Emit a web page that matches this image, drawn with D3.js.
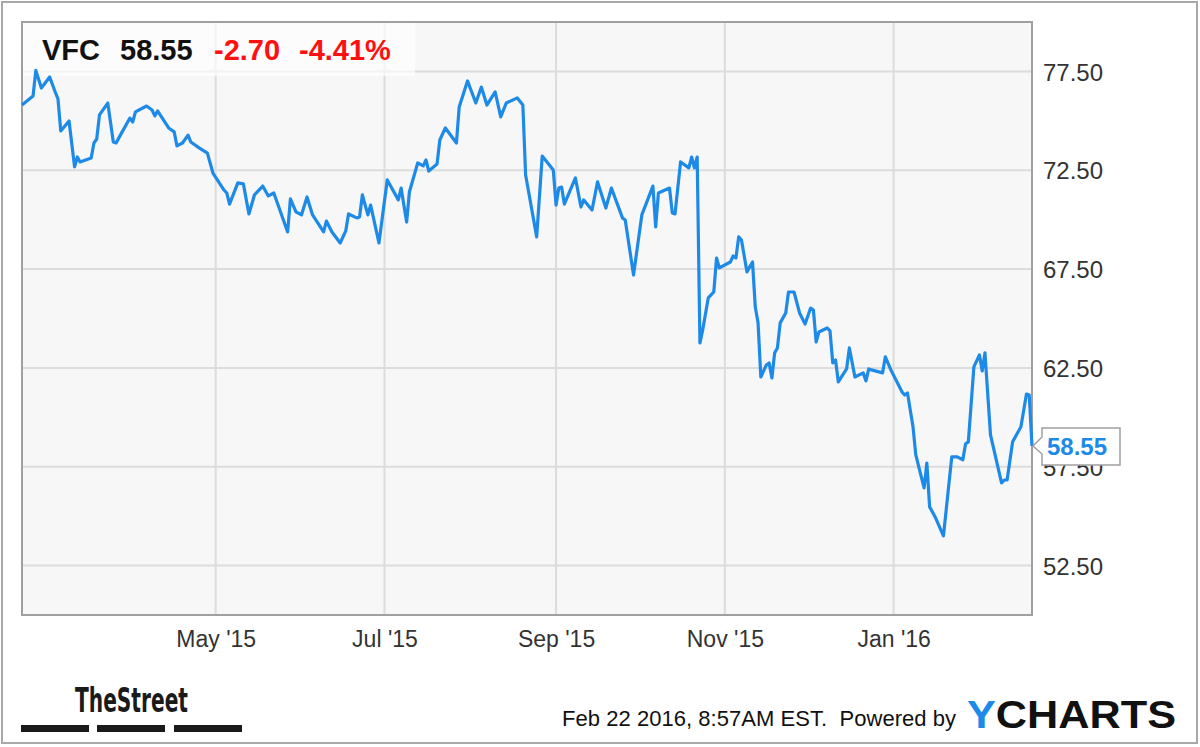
<!DOCTYPE html>
<html>
<head>
<meta charset="utf-8">
<script src="https://cdn.jsdelivr.net/npm/d3@7"></script>
<style>
  html, body { margin: 0; padding: 0; background: #fff; }
  svg { display: block; }
  text { font-family: "Liberation Sans", Arial, sans-serif; }
</style>
</head>
<body>
<svg id="chart" width="1200" height="747"></svg>
<script>
// ---------- DATA ----------
const ticker = "VFC";
const lastPrice = 58.55;
const changeAbs = "-2.70";
const changePct = "-4.41%";

const dates = [
"2015-02-20","2015-02-24","2015-02-25","2015-02-27","2015-03-02","2015-03-04","2015-03-05","2015-03-06","2015-03-09","2015-03-11","2015-03-12","2015-03-13","2015-03-17","2015-03-18","2015-03-19","2015-03-20","2015-03-23","2015-03-25","2015-03-26","2015-03-28","2015-03-31","2015-04-01","2015-04-02","2015-04-06","2015-04-08","2015-04-09","2015-04-10","2015-04-14","2015-04-16","2015-04-17","2015-04-19","2015-04-21","2015-04-22","2015-04-25","2015-04-28","2015-04-30",
"2015-05-04","2015-05-05","2015-05-06","2015-05-09","2015-05-11","2015-05-13","2015-05-15","2015-05-18","2015-05-20","2015-05-22","2015-05-27","2015-05-28","2015-05-30",
"2015-06-01","2015-06-03","2015-06-05","2015-06-09","2015-06-10","2015-06-12","2015-06-15","2015-06-17","2015-06-18","2015-06-21","2015-06-22","2015-06-23","2015-06-25","2015-06-26","2015-06-29",
"2015-07-02","2015-07-06","2015-07-07","2015-07-09","2015-07-10","2015-07-13","2015-07-15","2015-07-16","2015-07-17","2015-07-20","2015-07-21","2015-07-23","2015-07-27","2015-07-28","2015-07-31",
"2015-08-03","2015-08-05","2015-08-07","2015-08-10","2015-08-12","2015-08-14","2015-08-18","2015-08-20","2015-08-21","2015-08-25","2015-08-27","2015-08-31",
"2015-09-01","2015-09-02","2015-09-03","2015-09-04","2015-09-08","2015-09-10","2015-09-11","2015-09-14","2015-09-16","2015-09-19","2015-09-21","2015-09-25","2015-09-26","2015-09-29",
"2015-10-02","2015-10-06","2015-10-07","2015-10-08","2015-10-12","2015-10-13","2015-10-14","2015-10-16","2015-10-19","2015-10-20","2015-10-21","2015-10-22","2015-10-23","2015-10-24","2015-10-26","2015-10-28","2015-10-29","2015-10-30",
"2015-11-03","2015-11-04","2015-11-05","2015-11-06","2015-11-07","2015-11-09","2015-11-11","2015-11-12","2015-11-13","2015-11-14","2015-11-16","2015-11-17","2015-11-18","2015-11-19","2015-11-20","2015-11-21","2015-11-23","2015-11-24","2015-11-26","2015-11-28","2015-11-30",
"2015-12-02","2015-12-03","2015-12-04","2015-12-05","2015-12-08","2015-12-09","2015-12-10","2015-12-11","2015-12-12","2015-12-15","2015-12-16","2015-12-18","2015-12-21","2015-12-22","2015-12-23","2015-12-24","2015-12-28","2015-12-29","2015-12-31",
"2016-01-04","2016-01-05","2016-01-06","2016-01-08","2016-01-09","2016-01-12","2016-01-13","2016-01-14","2016-01-16","2016-01-19","2016-01-22","2016-01-24","2016-01-26","2016-01-27","2016-01-28","2016-01-30",
"2016-02-01","2016-02-02","2016-02-03","2016-02-05","2016-02-09","2016-02-10","2016-02-11","2016-02-13","2016-02-16","2016-02-18","2016-02-19","2016-02-20"
];

const prices = [
75.80,76.26,77.55,76.66,77.22,76.46,76.11,74.49,74.99,72.67,73.17,72.92,73.12,73.88,74.08,75.30,75.90,73.93,73.88,74.39,75.14,74.94,75.45,75.75,75.55,75.25,75.50,74.64,74.44,73.73,73.88,74.28,73.93,73.63,73.37,72.36,
71.50,71.35,70.79,71.86,71.81,70.29,71.25,71.70,71.20,71.35,69.38,71.05,70.39,
70.24,71.15,70.24,69.38,69.93,69.38,68.82,69.43,70.29,70.09,70.14,71.25,70.24,70.74,68.82,
72.01,71.00,71.60,69.88,71.40,72.87,72.72,73.02,72.46,72.82,74.03,74.64,73.88,75.70,77.02,
75.90,76.71,75.80,76.46,75.20,75.90,76.16,75.80,72.26,69.13,73.22,72.51,
70.74,71.60,71.65,70.79,72.11,70.64,71.00,70.49,71.91,70.59,71.60,70.09,69.98,67.20,
70.24,71.70,69.63,71.35,71.60,70.34,70.29,72.92,72.62,73.17,72.62,73.17,63.76,64.42,66.04,66.34,68.06,67.56,
67.86,68.16,68.06,69.13,68.97,67.36,67.86,65.58,64.78,62.04,62.65,62.75,61.99,63.26,63.51,64.78,65.28,66.34,66.34,65.28,64.72,
65.53,65.43,63.81,64.32,64.52,64.37,62.75,62.90,61.79,62.45,63.51,62.04,62.25,61.84,62.45,62.40,62.25,63.06,62.40,
61.29,61.13,61.23,59.52,58.10,56.43,57.69,55.47,54.96,54.00,58.00,58.00,57.85,58.66,58.76,62.55,
63.16,62.35,63.26,59.11,56.68,56.83,56.83,58.76,59.52,61.18,61.13,58.55
];

const xDomain = ["2015-02-20", "2016-02-20"];
const yDomain = [50, 80];
const xTickDates = ["2015-05-01","2015-07-01","2015-09-01","2015-11-01","2016-01-01"];
const xTickLabels = ["May '15","Jul '15","Sep '15","Nov '15","Jan '16"];
const yTickValues = [52.5, 57.5, 62.5, 67.5, 72.5, 77.5];
const yTickLabels = ["52.50","57.50","62.50","67.50","72.50","77.50"];
const footerText = "Feb 22 2016, 8:57AM EST.  Powered by";

// ---------- CHART ----------
const parse = d3.timeParse("%Y-%m-%d");
const data = dates.map((d, i) => ({ date: parse(d), value: prices[i] }));

const svg = d3.select("#chart");
const plot = { left: 22, top: 22, right: 1032, bottom: 615 };

const x = d3.scaleTime().domain(xDomain.map(parse)).range([plot.left, plot.right]);
const y = d3.scaleLinear().domain(yDomain).range([plot.bottom, plot.top]);

// outer frame
svg.append("rect").attr("x", 2).attr("y", 2).attr("width", 1195).attr("height", 741)
  .attr("fill", "#fff").attr("stroke", "#a8a8a8").attr("stroke-width", 2);

// plot background
svg.append("rect").attr("x", plot.left).attr("y", plot.top)
  .attr("width", plot.right - plot.left).attr("height", plot.bottom - plot.top)
  .attr("fill", "#f7f7f7");

// horizontal gridlines
svg.append("g").selectAll("line").data(yTickValues).join("line")
  .attr("x1", plot.left).attr("x2", plot.right)
  .attr("y1", d => y(d)).attr("y2", d => y(d))
  .attr("stroke", "#dcdcdc").attr("stroke-width", 2);

// vertical gridlines
const xTicks = xTickDates.map(parse);
svg.append("g").selectAll("line").data(xTicks).join("line")
  .attr("x1", d => x(d)).attr("x2", d => x(d))
  .attr("y1", plot.top).attr("y2", plot.bottom)
  .attr("stroke", "#dcdcdc").attr("stroke-width", 2);

// legend box (semi-transparent)
svg.append("rect").attr("x", plot.left).attr("y", plot.top).attr("width", 393).attr("height", 54)
  .attr("fill", "#fff").attr("opacity", 0.65);

// plot border
svg.append("rect").attr("x", plot.left).attr("y", plot.top)
  .attr("width", plot.right - plot.left).attr("height", plot.bottom - plot.top)
  .attr("fill", "none").attr("stroke", "#a0a0a0").attr("stroke-width", 2);

// price line
const line = d3.line().x(d => x(d.date)).y(d => y(d.value));
svg.append("path").datum(data)
  .attr("d", line)
  .attr("fill", "none")
  .attr("stroke", "#1e8ae8")
  .attr("stroke-width", 3.2)
  .attr("stroke-linejoin", "round");

// x axis labels
const xAxis = d3.axisBottom(x).tickValues(xTicks)
  .tickFormat((d, i) => xTickLabels[i]).tickSize(0).tickPadding(0);
const gx = svg.append("g").attr("transform", `translate(0, ${plot.bottom})`).call(xAxis);
gx.select(".domain").remove();
gx.selectAll("text").attr("y", 32).attr("dy", 0)
  .attr("font-size", 23).attr("fill", "#333").style("font-family", '"Liberation Sans", Arial, sans-serif');

// y axis labels (right)
const yAxis = d3.axisRight(y).tickValues(yTickValues)
  .tickFormat((d, i) => yTickLabels[i]).tickSize(0).tickPadding(0);
const gy = svg.append("g").attr("transform", `translate(${plot.right + 11}, 0)`).call(yAxis);
gy.select(".domain").remove();
gy.selectAll("text").attr("x", 0).attr("dy", "0.36em")
  .attr("font-size", 24).attr("fill", "#333").style("font-family", '"Liberation Sans", Arial, sans-serif');

// legend text
const legend = svg.append("text").attr("x", 42).attr("y", 60)
  .attr("font-size", 29).attr("font-weight", "bold");
legend.append("tspan").attr("fill", "#111").text(ticker);
legend.append("tspan").attr("x", 120).attr("fill", "#111").text(lastPrice.toFixed(2));
legend.append("tspan").attr("x", 214).attr("fill", "#ff1010").text(changeAbs);
legend.append("tspan").attr("x", 299).attr("fill", "#ff1010").text(changePct);

// end value label
const ly = y(lastPrice);
const bx0 = plot.right + 10, bx1 = plot.right + 88;
const tipX = plot.right + 1;
const labelPath = d3.path();
labelPath.moveTo(tipX, ly);
labelPath.lineTo(bx0, ly - 9);
labelPath.lineTo(bx0, ly - 18);
labelPath.lineTo(bx1, ly - 18);
labelPath.lineTo(bx1, ly + 19);
labelPath.lineTo(bx0, ly + 19);
labelPath.lineTo(bx0, ly + 8);
labelPath.closePath();
svg.append("path").attr("d", labelPath.toString())
  .attr("fill", "#fff").attr("stroke", "#a0a0a0").attr("stroke-width", 1.5);
svg.append("text").attr("x", bx0 + 5).attr("y", ly + 9)
  .attr("font-size", 24).attr("font-weight", "bold").attr("fill", "#1e8ae8")
  .text(lastPrice.toFixed(2));

// TheStreet logo
svg.append("text").attr("x", 75).attr("y", 712)
  .attr("font-size", 33).attr("font-weight", "bold").attr("fill", "#1a1a1a")
  .attr("textLength", 113).attr("lengthAdjust", "spacingAndGlyphs")
  .style("font-family", '"Liberation Sans Narrow", "DejaVu Sans Condensed", sans-serif')
  .text("TheStreet");
[[21, 89], [97, 165], [174, 242]].forEach(([a, b]) => {
  svg.append("rect").attr("x", a).attr("y", 725).attr("width", b - a).attr("height", 7).attr("fill", "#1a1a1a");
});

// footer
svg.append("text").attr("x", 562).attr("y", 726)
  .attr("font-size", 22).attr("fill", "#111")
  .attr("textLength", 394).attr("lengthAdjust", "spacing")
  .style("white-space", "pre").text(footerText);
const yc = svg.append("text").attr("x", 967).attr("y", 728)
  .attr("font-size", 39).attr("font-weight", "bold")
  .attr("textLength", 209).attr("lengthAdjust", "spacingAndGlyphs");
yc.append("tspan").attr("fill", "#1e8ae8").text("Y");
yc.append("tspan").attr("fill", "#111").text("CHARTS");
</script>
</body>
</html>
